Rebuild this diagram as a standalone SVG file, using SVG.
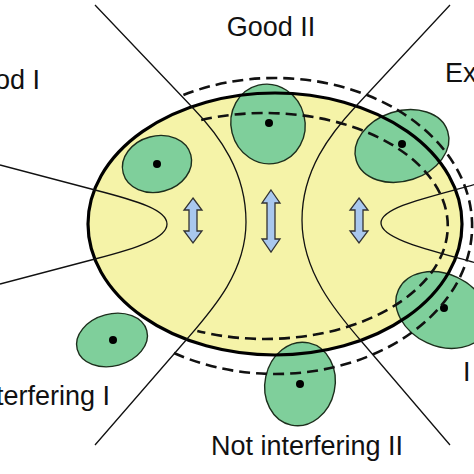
<svg xmlns="http://www.w3.org/2000/svg" width="474" height="474" viewBox="0 0 474 474">
<style>
.lbl{font-family:"Liberation Sans",Arial,sans-serif;font-size:27px;fill:#111}
.grn{fill:#7fcf9b;stroke:#1c2e1c;stroke-width:1.4}
.dot{fill:#000}
.arw{fill:#a9c8ee;stroke:#333;stroke-width:1.3;stroke-linejoin:miter}
.thin{fill:none;stroke:#111;stroke-width:1.3}
.dash{fill:none;stroke:#111;stroke-width:2.6;stroke-dasharray:11 6}
</style>
<rect width="474" height="474" fill="#fff"/>
<g id="region">
<ellipse cx="275" cy="224" rx="187" ry="131" fill="#f5f3a8"/>
</g>
<g id="blob1"><ellipse class="grn" cx="157" cy="164" rx="35" ry="28" transform="rotate(-15 157 164)"/><circle class="dot" cx="157" cy="164" r="4"/></g>
<g id="blob2"><ellipse class="grn" cx="268" cy="124" rx="37" ry="40" transform="rotate(-14 268 124)"/><circle class="dot" cx="269" cy="123" r="4"/></g>
<g id="blob3"><ellipse class="grn" cx="402" cy="146" rx="48" ry="35" transform="rotate(-18 402 146)"/><circle class="dot" cx="402" cy="144" r="4"/></g>
<g id="blob4"><ellipse class="grn" cx="442" cy="310" rx="48" ry="36" transform="rotate(25 442 310)"/><circle class="dot" cx="444" cy="308" r="4"/></g>
<g id="blob5"><ellipse class="grn" cx="300" cy="384" rx="35" ry="42" transform="rotate(12 300 384)"/><circle class="dot" cx="300" cy="384" r="4"/></g>
<g id="blob6"><ellipse class="grn" cx="112" cy="340" rx="36" ry="26" transform="rotate(-15 112 340)"/><circle class="dot" cx="113" cy="340" r="4"/></g>
<g id="region-outline">
<ellipse cx="275" cy="224" rx="187" ry="131" fill="none" stroke="#000" stroke-width="3.2"/>
</g>
<g id="connectors">
<path class="dash" d="M183.4,95 A197,148 0 1 1 171.8,352"/>
<path class="dash" d="M201.2,120 A183,113 0 1 1 197.3,331"/>
<path class="thin" d="M95,5 L192,107 C220,136 246,172 246,222 C246,272 213,309 187,339 L95,445"/>
<path class="thin" d="M450,5 L357,105 C330,134 302,170 302,220 C302,272 336,312 362,342 L450,445"/>
<path class="thin" d="M0,165 L95,190 C138,201 167,210 167,224 C167,238 138,248 95,259 L0,284"/>
<path class="thin" d="M476,184 C430,197 381,207 381,223 C381,239 430,250 476,263"/>
</g>
<g id="arrows">
<path class="arw" d="M193,198 L202,210 L197,210 L197,231 L202,231 L193,243 L184,231 L189,231 L189,210 L184,210 Z"/>
<path class="arw" d="M271,190 L280,203 L275,203 L275,239 L280,239 L271,252 L262,239 L267,239 L267,203 L262,203 Z"/>
<path class="arw" d="M359,198 L368,210 L363,210 L363,231 L368,231 L359,243 L350,231 L355,231 L355,210 L350,210 Z"/>
</g>
<g id="labels">
<text class="lbl" x="271" y="36" text-anchor="middle">Good II</text>
<text class="lbl" x="-41" y="89">Good I</text>
<text class="lbl" x="445" y="82">Ex</text>
<text class="lbl" x="110" y="405" text-anchor="end">Not interfering I</text>
<text class="lbl" x="307" y="455" text-anchor="middle">Not interfering II</text>
<text class="lbl" x="463" y="381">I</text>
</g>
</svg>
